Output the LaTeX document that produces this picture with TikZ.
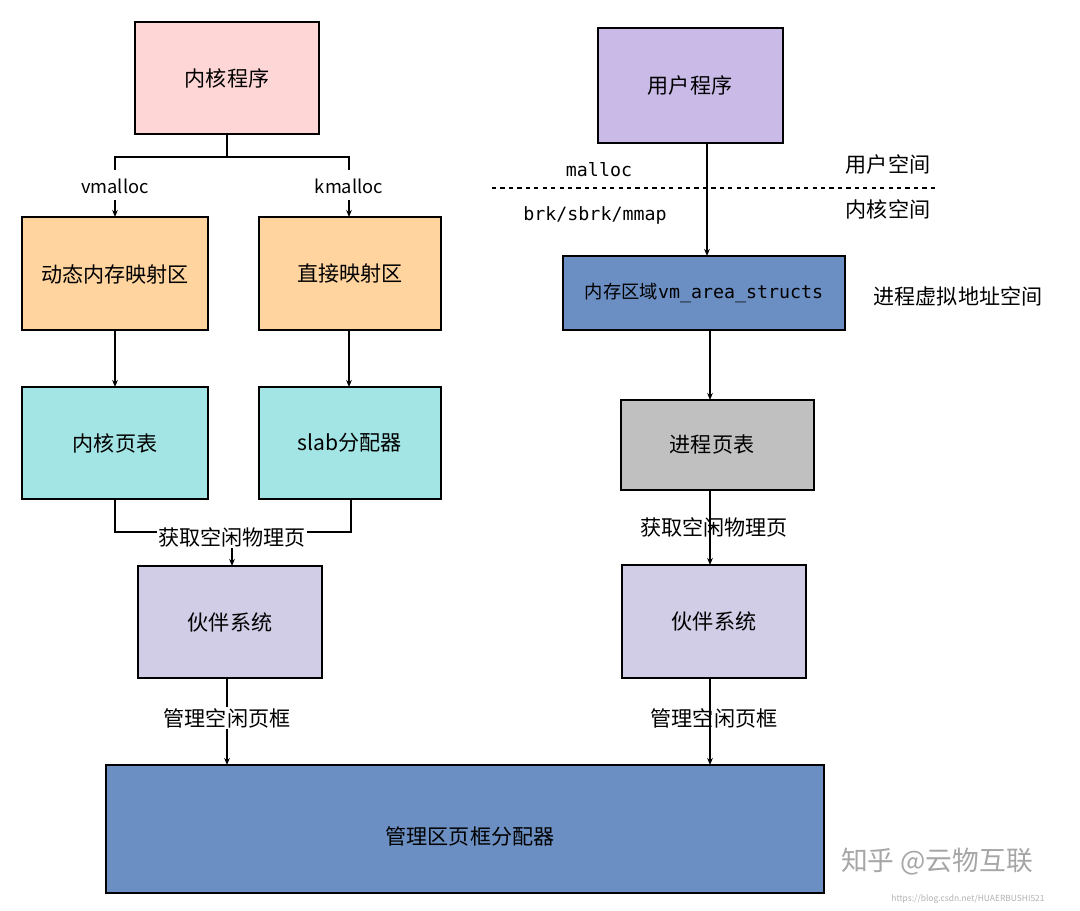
\documentclass[tikz,border=0pt]{standalone}
\usepackage{fontspec}
\setmainfont{Noto Sans CJK SC}
\newfontfamily\monof{DejaVu Sans Mono}
\usetikzlibrary{arrows.meta}
\definecolor{cpink}{HTML}{FFD6D6}
\definecolor{cpurp}{HTML}{C9BAE8}
\definecolor{corng}{HTML}{FFD49E}
\definecolor{ccyan}{HTML}{A3E4E4}
\definecolor{clav}{HTML}{D2CDE6}
\definecolor{cblue}{HTML}{6B8FC2}
\definecolor{cgray}{HTML}{C0C0C0}
\begin{document}
\begin{tikzpicture}[x=0.025cm,y=-0.025cm,
  box/.style={draw=black,line width=0.8pt},
  lbl/.style={font=\fontsize{15}{18}\selectfont},
  arr/.style={-{Stealth[length=5pt,width=4pt]},line width=0.8pt},
  ln/.style={line width=0.8pt}]
\useasboundingbox (0,0) rectangle (1080,911);
\fill[white] (0,0) rectangle (1080,911);
\newcommand{\bx}[6]{\filldraw[box,fill=#5] (#1,#2) rectangle (#3,#4); \node[lbl] (#6) at ({(#1+#3)/2},{(#2+#4)/2}) {};}
\filldraw[box,fill=cpink] (135,22) rectangle (319,134); \node[lbl] (kp) at (227,78) {内核程序};
\filldraw[box,fill=cpurp] (598,28) rectangle (783,143); \node[lbl] (up) at (690,86) {用户程序};
\filldraw[box,fill=corng] (22,217) rectangle (208,330); \node[lbl] (dm) at (115,274) {动态内存映射区};
\filldraw[box,fill=corng] (259,217) rectangle (441,330); \node[lbl] (dd) at (350,274) {直接映射区};
\filldraw[box,fill=ccyan] (22,387) rectangle (208,499); \node[lbl] (kt) at (115,443) {内核页表};
\filldraw[box,fill=ccyan] (259,387) rectangle (441,499); \node[lbl] (sl) at (350,443) {slab分配器};
\filldraw[box,fill=clav] (138,566) rectangle (322,678); \node[lbl] (b1) at (230,622) {伙伴系统};
\filldraw[box,fill=cblue] (563,256) rectangle (845,330); \node[lbl,font=\fontsize{13}{16}\selectfont] (vm) at (704,293) {内存区域{\monof vm\_area\_structs}};
\filldraw[box,fill=cgray] (621,400) rectangle (814,490); \node[lbl] (pt) at (712,445) {进程页表};
\filldraw[box,fill=clav] (622,565) rectangle (806,678); \node[lbl] (b2) at (714,621) {伙伴系统};
\filldraw[box,fill=cblue] (106,765) rectangle (824,893); \node[lbl] (za) at (470,836) {管理区页框分配器};
% left tree
\coordinate (t0) at (227,134); \coordinate (tl) at (115,157); \coordinate (tr) at (349,157);
\draw[ln] (t0) -- (227,157) -- (tl) -- (115,170); \draw[ln] (227,157) -- (tr) -- (349,170);
\draw[arr] (115,200) -- (115,217); \draw[arr] (349,200) -- (349,217);
\node[lbl,font=\fontsize{13}{16}\selectfont] at (115,186) {vmalloc};
\node[lbl,font=\fontsize{13}{16}\selectfont] at (349,186) {kmalloc};
\draw[arr] (115,330) -- (115,387); \draw[arr] (349,330) -- (349,387);
\draw[ln] (115,499) -- (115,532) -- (351,532) -- (351,499);
\node[lbl,fill=white,inner sep=1pt] (g1) at (232,537) {获取空闲物理页};
\draw[arr] (g1.south) -- (232,566);
\draw[arr] (227,678) -- (227,765);
\node[lbl,fill=white,inner sep=1pt] at (227,718) {管理空闲页框};
% right
\draw[arr] (707,143) -- (707,256);
\draw[ln,dashed] (492,188) -- (935,188);
\node[lbl,font=\fontsize{13}{16}\selectfont\monof] at (599,170) {malloc};
\node[lbl,font=\fontsize{13}{16}\selectfont\monof] at (595,215) {brk/sbrk/mmap};
\node[lbl] at (888,164) {用户空间};
\node[lbl] at (888,209) {内核空间};
\node[lbl] at (958,296) {进程虚拟地址空间};
\draw[arr] (710,330) -- (710,400);
\draw[arr] (710,490) -- (710,565);
\node[lbl] at (714,527) {获取空闲物理页};
\draw[arr] (710,678) -- (710,765);
\node[lbl] at (714,718) {管理空闲页框};
\node[font=\fontsize{19}{22}\selectfont,text=gray!70] at (937,862) {知乎 @云物互联};
\node[font=\fontsize{6}{7}\selectfont,text=gray!60] at (968,899) {https://blog.csdn.net/HUAERBUSHI521};
\end{tikzpicture}
\end{document}
